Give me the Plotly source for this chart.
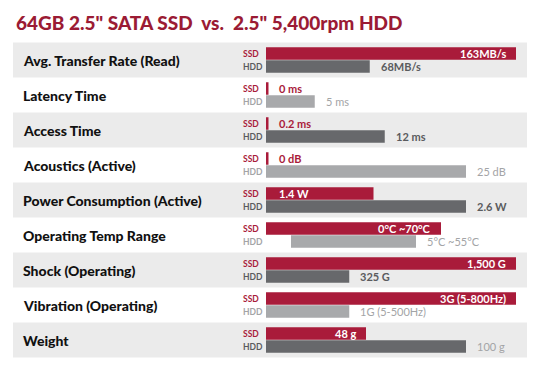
import plotly.graph_objects as go

title = '64GB 2.5" SATA SSD  vs.  2.5" 5,400rpm HDD'
categories = ["Avg. Transfer Rate (Read)", "Latency Time", "Access Time",
              "Acoustics (Active)", "Power Consumption (Active)",
              "Operating Temp Range", "Shock (Operating)",
              "Vibration (Operating)", "Weight"]
ssd_text = ["163MB/s", "0 ms", "0.2 ms", "0 dB", "1.4 W", "0°C ~70°C",
            "1,500 G", "3G (5-800Hz)", "48 g"]
hdd_text = ["68MB/s", "5 ms", "12 ms", "25 dB", "2.6 W", "5°C ~55°C",
            "325 G", "1G (5-500Hz)", "100 g"]
# relative bar lengths as drawn (full width = 100)
ssd_start = [0, 0, 0, 0, 0, 0, 0, 0, 0]
ssd_end = [100, 1, 1, 1, 43, 70, 100, 100, 40]
hdd_start = [0, 0, 0, 0, 0, 10, 0, 0, 0]
hdd_end = [41.5, 19.5, 47.5, 80, 80, 60, 33.3, 33.3, 80]
hdd_shade = ["dark", "light", "dark", "light", "dark", "light", "dark", "light", "dark"]
hdd_text_shade = ["dark", "light", "dark", "light", "dark", "light", "dark", "light", "light"]
ssd_label_mode = ["in_right", "out", "out", "out", "in_left", "in_right",
                  "in_right", "in_right", "in_right"]

RED = "#a91b3a"
DARK = "#67686b"
LIGHT = "#a8a9ab"
BAND = "#ebebeb"
TXT_DARK = "#5a5b5e"
TXT_LIGHT = "#a3a4a6"

W, H = 550, 374
X0PX, SCALE = 266, 2.5          # px of value 0, px per unit
ROW0, ROWH = 60, 35              # px center of first row, row height
OFF = 6.5 / ROWH
BW = 12.5 / ROWH
FONT = "Lato"

n = len(categories)
ys = list(range(n))

fig = go.Figure()
fig.add_trace(go.Bar(
    y=[y - OFF for y in ys], x=[e - s for s, e in zip(ssd_start, ssd_end)],
    base=ssd_start, orientation="h", width=BW,
    marker=dict(color=RED, line=dict(width=0)), hoverinfo="skip"))
fig.add_trace(go.Bar(
    y=[y + OFF for y in ys], x=[e - s for s, e in zip(hdd_start, hdd_end)],
    base=hdd_start, orientation="h", width=BW,
    marker=dict(color=[DARK if s == "dark" else LIGHT for s in hdd_shade],
                line=dict(width=0)), hoverinfo="skip"))

shapes = []
for i in ys:
    if i % 2 == 0:
        shapes.append(dict(type="rect", xref="paper", yref="y",
                           x0=13 / W, x1=527 / W, y0=i - 0.5, y1=i + 0.5,
                           fillcolor=BAND, line=dict(width=0), layer="below"))

ann = []
ann.append(dict(text=title, xref="paper", yref="paper",
                x=14 / W, y=1 - 22 / H, xanchor="left", yanchor="middle",
                showarrow=False,
                font=dict(family=FONT, size=19, color="#9b1b34", weight=900)))
for i in ys:
    ann.append(dict(text=categories[i], xref="paper", yref="y",
                    x=21 / W, y=i, xanchor="left", yanchor="middle", showarrow=False,
                    font=dict(family=FONT, size=14, color="#111111", weight=900)))
    ann.append(dict(text="<b>SSD</b>", xref="paper", yref="y", x=241 / W, y=i - OFF,
                    xanchor="left", yanchor="middle", showarrow=False,
                    font=dict(family=FONT, size=8.5, color=RED)))
    hc = TXT_DARK if hdd_shade[i] == "dark" else TXT_LIGHT
    ann.append(dict(text="<b>HDD</b>", xref="paper", yref="y", x=241 / W, y=i + OFF,
                    xanchor="left", yanchor="middle", showarrow=False,
                    font=dict(family=FONT, size=8.5, color=hc)))
    mode = ssd_label_mode[i]
    if mode == "in_right":
        ann.append(dict(text="<b>" + ssd_text[i] + "</b>", x=ssd_end[i] - 3.4, y=i - OFF,
                        xanchor="right", yanchor="middle", showarrow=False,
                        font=dict(family=FONT, size=11, color="white")))
    elif mode == "in_left":
        ann.append(dict(text="<b>" + ssd_text[i] + "</b>", x=ssd_start[i] + 4.4, y=i - OFF,
                        xanchor="left", yanchor="middle", showarrow=False,
                        font=dict(family=FONT, size=11, color="white")))
    else:
        ann.append(dict(text="<b>" + ssd_text[i] + "</b>", x=ssd_end[i] + 3.4, y=i - OFF,
                        xanchor="left", yanchor="middle", showarrow=False,
                        font=dict(family=FONT, size=11, color=RED)))
    tc = TXT_DARK if hdd_text_shade[i] == "dark" else TXT_LIGHT
    txt = "<b>" + hdd_text[i] + "</b>" if hdd_text_shade[i] == "dark" else hdd_text[i]
    ann.append(dict(text=txt, x=hdd_end[i] + 3.6, y=i + OFF,
                    xanchor="left", yanchor="middle", showarrow=False,
                    font=dict(family=FONT, size=11, color=tc)))

fig.update_layout(
    width=W, height=H, margin=dict(l=0, r=0, t=0, b=0),
    paper_bgcolor="white", plot_bgcolor="white",
    barmode="overlay", showlegend=False,
    xaxis=dict(range=[-X0PX / SCALE, (W - X0PX) / SCALE], visible=False, fixedrange=True),
    yaxis=dict(range=[(H - ROW0) / ROWH, -ROW0 / ROWH], visible=False, fixedrange=True),
    shapes=shapes, annotations=ann,
)
fig.write_html("out.html", config={"displayModeBar": False},
               post_script="document.body.style.margin='0';document.body.style.overflow='hidden';")
